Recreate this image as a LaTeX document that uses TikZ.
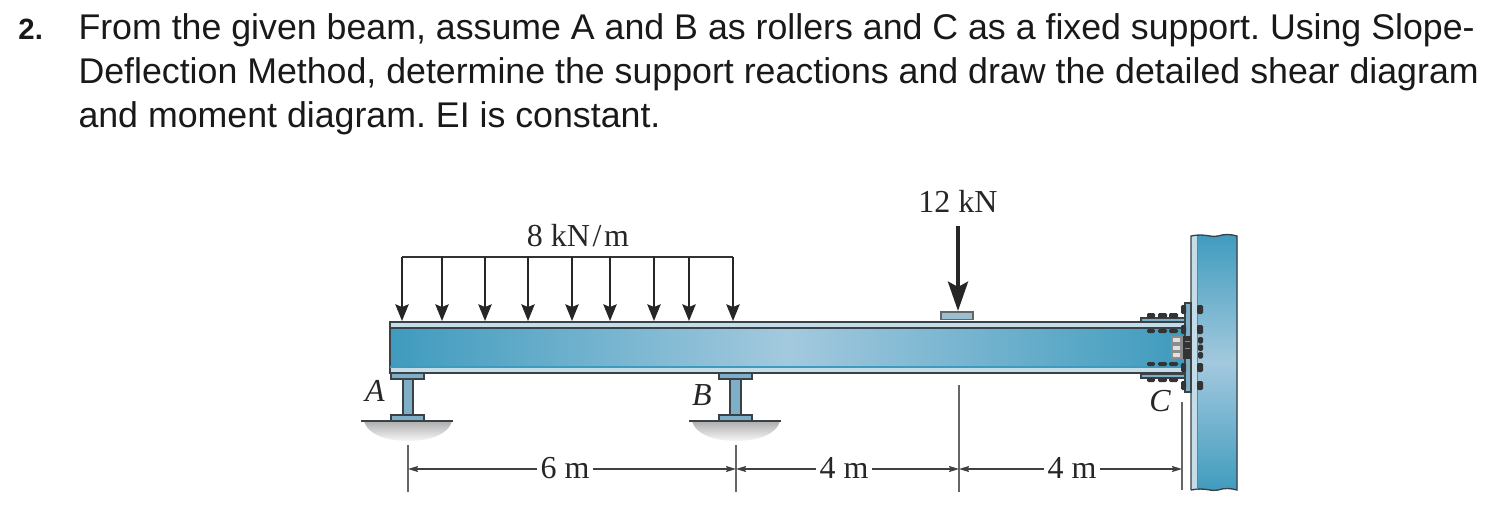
\documentclass[tikz,border=0pt]{standalone}
\usepackage{fontspec}
\setmainfont{Liberation Serif}
\newfontfamily\qfont{Liberation Sans}
\usetikzlibrary{arrows.meta}
\frenchspacing
\definecolor{beamdark}{HTML}{3F9BBE}
\definecolor{beamlight}{HTML}{A3C9DE}
\definecolor{flange}{HTML}{C5DCE9}
\definecolor{steel}{HTML}{7FAFC6}
\definecolor{edge}{HTML}{3A4248}
\tikzset{every picture/.style={line width=0.75pt}}
\tikzset{
  qtext/.style={anchor=base west,inner sep=0pt,font=\qfont\fontsize{26.8}{26.8}\selectfont,text=black!90},
  dimtext/.style={inner sep=0pt,font=\fontsize{24}{24}\selectfont,text=black!85},
  letter/.style={inner sep=0pt,font=\itshape\fontsize{24}{24}\selectfont,text=black!85},
  load/.style={draw=black!85,line width=1.5pt,-{Stealth[length=12.5pt,width=10pt,inset=2pt]}},
  dimline/.style={draw=black!75,line width=0.9pt,-{Stealth[length=7.5pt,width=4.5pt,inset=1pt]}},
  tick/.style={draw=black!60,line width=0.9pt},
  part/.style={draw=edge,line width=0.9pt,fill=steel},
  shadowfill/.style={draw=none,top color=black!32,bottom color=black!3},
  boltfill/.style={fill=black!80,rounded corners=1pt},
}
\begin{document}
\begin{tikzpicture}[x=0.75pt,y=0.75pt,yscale=-1,xscale=1]
\useasboundingbox (0,0) rectangle (1502,522);

% Question text
\node[qtext,font=\qfont\bfseries\fontsize{22}{22}\selectfont] (qnum) at (18,39.5) {2.};
\node[qtext] (qone) at (78,39.5) {From the given beam, assume A and B as rollers and C as a fixed support. Using Slope-};
\node[qtext] (qtwo) at (78,83.5) {Deflection Method, determine the support reactions and draw the detailed shear diagram};
\node[qtext] (qthree) at (78,127.5) {and moment diagram. EI is constant.};

% Ground shadows
\path[shadowfill] (364,421) .. controls (368,436) and (390,441) .. (408,441) .. controls (426,441) and (448,436) .. (452,421) -- cycle ;
\path[shadowfill] (692,421) .. controls (696,436) and (718,441) .. (736,441) .. controls (754,441) and (776,436) .. (780,421) -- cycle ;

% Support A
\draw[part] (403,378) rectangle (413,416) ;
\draw[part] (391,373) rectangle (424,379) ;
\draw[part] (391,415) rectangle (424,421) ;
\draw[edge,line width=1pt] (361,421) -- (453,421) ;
% Support B
\draw[part] (730,378) rectangle (741,416) ;
\draw[part] (719,373) rectangle (752,379) ;
\draw[part] (719,415) rectangle (752,421) ;
\draw[edge,line width=1pt] (689,421) -- (781,421) ;

% Column
\fill[top color=beamdark,bottom color=beamdark,middle color=beamlight] (1197,236) .. controls (1205,233) and (1212,238) .. (1218,236) .. controls (1224,234) and (1230,234) .. (1237,236) -- (1237,490) .. controls (1230,488) and (1224,488) .. (1218,490) .. controls (1212,492) and (1205,487) .. (1197,490) -- cycle ;
\fill[flange] (1191,236) rectangle (1197,490) ;
\draw[edge,line width=1pt] (1191,490) -- (1191,236) .. controls (1205,233) and (1212,238) .. (1218,236) .. controls (1224,234) and (1230,234) .. (1237,236) -- (1237,490) .. controls (1230,488) and (1224,488) .. (1218,490) .. controls (1212,492) and (1205,487) .. (1191,490) ;
\draw[edge!70,line width=0.7pt] (1197,236) -- (1197,490) ;

% Beam
\fill[left color=beamdark,right color=beamdark,middle color=beamlight] (390,328) rectangle (1185,367) ;
\fill[flange] (390,322) rectangle (1185,328) ;
\fill[flange] (390,367) rectangle (1185,373) ;
\draw[edge,line width=1pt] (1185,322) -- (390,322) -- (390,373) -- (1185,373) ;
\draw[edge,line width=1pt] (390,328) -- (1185,328) ;
\draw[beamdark,line width=1pt] (390,367) -- (1185,367) ;

% Connection at the column
\draw[part] (1185,303) rectangle (1191,392) ;
\draw[part] (1141,318) -- (1185,318) -- (1185,322) -- (1141,322) -- cycle ;
\draw[part] (1141,374) -- (1185,374) -- (1185,378) -- (1141,378) -- cycle ;
\fill[black!45] (1171,336) rectangle (1183,359) ;
\fill[black!80] (1183,336) rectangle (1191,359) ;
\fill[black!12] (1173,338) rectangle (1180,342) ;
\fill[black!12] (1173,345.5) rectangle (1180,349.5) ;
\fill[black!12] (1173,353) rectangle (1180,357) ;
\fill[black!45] (1185,341) rectangle (1190,342) ;
\fill[black!45] (1185,348) rectangle (1190,349) ;
% Bolts, flange rows
\fill[boltfill] (1147,313) rectangle (1155,318) ;
\fill[boltfill] (1158,313) rectangle (1167,318) ;
\fill[boltfill] (1169,313) rectangle (1178,318) ;
\fill[boltfill] (1147,329) rectangle (1155,333) ;
\fill[boltfill] (1158,329) rectangle (1167,333) ;
\fill[boltfill] (1169,329) rectangle (1178,333) ;
\fill[boltfill] (1147,362) rectangle (1155,366) ;
\fill[boltfill] (1158,362) rectangle (1167,366) ;
\fill[boltfill] (1169,362) rectangle (1178,366) ;
\fill[boltfill] (1147,378) rectangle (1155,382) ;
\fill[boltfill] (1158,378) rectangle (1167,382) ;
\fill[boltfill] (1169,378) rectangle (1178,382) ;
% Bolts, plate
\fill[boltfill] (1181,305) rectangle (1186,314) ;
\fill[boltfill] (1181,325) rectangle (1186,334) ;
\fill[boltfill] (1181,363) rectangle (1186,372) ;
\fill[boltfill] (1181,381) rectangle (1186,390) ;
\fill[boltfill] (1197,305) rectangle (1203,314) ;
\fill[boltfill] (1197,325) rectangle (1203,334) ;
\fill[boltfill] (1197,363) rectangle (1203,372) ;
\fill[boltfill] (1197,381) rectangle (1203,390) ;
\fill[boltfill] (1198,337) rectangle (1203,343.5) ;
\fill[boltfill] (1198,344.5) rectangle (1203,351) ;
\fill[boltfill] (1198,352) rectangle (1203,358.5) ;

% Distributed load
\draw[black!80,line width=1.2pt] (402,257) -- (733,257) ;
\draw[load] (402,257) -- (402,321) ;
\draw[load] (442,257) -- (442,321) ;
\draw[load] (485,257) -- (485,321) ;
\draw[load] (528,257) -- (528,321) ;
\draw[load] (572,257) -- (572,321) ;
\draw[load] (610,257) -- (610,321) ;
\draw[load] (654,257) -- (654,321) ;
\draw[load] (689,257) -- (689,321) ;
\draw[load] (733,257) -- (733,321) ;

% Point load
\draw[part,draw=black!60,fill=steel!80] (941,312) rectangle (973,319.5) ;
\draw[black!85,line width=3pt,-{Stealth[length=22pt,width=15pt,inset=4pt]}] (958,226) -- (958,311) ;

% Dimension ticks
\coordinate (dima) at (408,469);
\coordinate (dimb) at (736,469);
\coordinate (dimp) at (959,469);
\coordinate (dimc) at (1182,469);
\draw[tick] (408,445) -- (408,492) ;
\draw[tick] (736,445) -- (736,492) ;
\draw[tick] (959,385) -- (959,492) ;
\draw[tick] (1182,402) -- (1182,490) ;

% Text Node
\node[dimtext] (load) at (578,236) {8 kN\kern2pt/\kern2pt m};
\node[dimtext] (force) at (958,201) {12 kN};
\node[letter] (lettera) at (375,391) {A};
\node[letter] (letterb) at (702,395) {B};
\node[letter] (letterc) at (1160,401) {C};
\node[dimtext] (sixm) at (565,468) {6 m};
\node[dimtext] (fourl) at (844,468) {4 m};
\node[dimtext] (fourr) at (1072,468) {4 m};

% Dimension lines
\draw[dimline] (sixm) ++(-28,1) -- (dima) ;
\draw[dimline] (sixm) ++(28,1) -- (dimb) ;
\draw[dimline] (fourl) ++(-28,1) -- (dimb) ;
\draw[dimline] (fourl) ++(28,1) -- (dimp) ;
\draw[dimline] (fourr) ++(-28,1) -- (dimp) ;
\draw[dimline] (fourr) ++(28,1) -- (dimc) ;

\end{tikzpicture}
\end{document}
